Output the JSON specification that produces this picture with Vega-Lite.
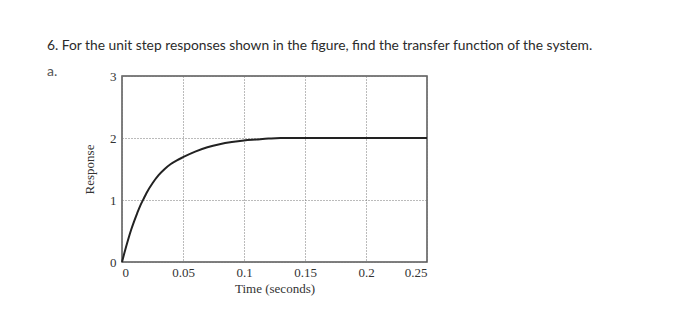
{
  "$schema": "https://vega.github.io/schema/vega-lite/v6.json",
  "autosize": "none",
  "width": 305,
  "height": 186,
  "padding": {"left": 122, "top": 76, "right": 273, "bottom": 59},
  "background": "white",
  "title": {
    "text": "6. For the unit step responses shown in the figure, find the transfer function of the system.",
    "subtitle": "a.",
    "anchor": "start",
    "frame": "group",
    "dx": -75,
    "dy": 11,
    "font": "Lato",
    "fontSize": 13.8,
    "fontWeight": "normal",
    "color": "#2b2b2b",
    "subtitleFont": "Lato",
    "subtitleFontSize": 14,
    "subtitleColor": "#555555",
    "subtitlePadding": 12,
    "offset": 2
  },
  "data": {
    "values": [
      {"t": 0, "y": 0},
      {"t": 0.002, "y": 0.15},
      {"t": 0.005, "y": 0.36},
      {"t": 0.0075, "y": 0.52},
      {"t": 0.01, "y": 0.66},
      {"t": 0.0125, "y": 0.79},
      {"t": 0.015, "y": 0.91},
      {"t": 0.0175, "y": 1.01},
      {"t": 0.02, "y": 1.11},
      {"t": 0.025, "y": 1.27},
      {"t": 0.03, "y": 1.40},
      {"t": 0.035, "y": 1.50},
      {"t": 0.04, "y": 1.58},
      {"t": 0.045, "y": 1.64},
      {"t": 0.05, "y": 1.69},
      {"t": 0.06, "y": 1.78},
      {"t": 0.07, "y": 1.85},
      {"t": 0.08, "y": 1.90},
      {"t": 0.09, "y": 1.935},
      {"t": 0.1, "y": 1.96},
      {"t": 0.11, "y": 1.975},
      {"t": 0.12, "y": 1.99},
      {"t": 0.13, "y": 2.0},
      {"t": 0.15, "y": 2.0},
      {"t": 0.2, "y": 2.0},
      {"t": 0.25, "y": 2.0}
    ]
  },
  "mark": {"type": "line", "color": "#222222", "strokeWidth": 2, "interpolate": "monotone"},
  "encoding": {
    "x": {
      "field": "t",
      "type": "quantitative",
      "title": "Time (seconds)",
      "scale": {"domain": [0, 0.25], "nice": false, "zero": false},
      "axis": {"values": [0, 0.05, 0.1, 0.15, 0.2, 0.25], "labelExpr": "datum.value === 0 ? '0' : format(datum.value, '')", "labelPadding": 4, "titlePadding": 3}
    },
    "y": {
      "field": "y",
      "type": "quantitative",
      "title": "Response",
      "scale": {"domain": [0, 3], "nice": false},
      "axis": {"values": [0, 1, 2, 3], "titlePadding": 13}
    }
  },
  "config": {
    "view": {"stroke": "#555555", "strokeWidth": 1.5},
    "axis": {
      "domain": false,
      "ticks": false,
      "grid": true,
      "gridColor": "#777777",
      "gridDash": [1, 2],
      "gridWidth": 1,
      "labelFont": "Liberation Serif",
      "labelFontSize": 13,
      "labelColor": "#333333",
      "labelPadding": 6,
      "titleFont": "Liberation Serif",
      "titleFontSize": 13,
      "titleFontWeight": "normal",
      "titleColor": "#333333"
    }
  }
}
